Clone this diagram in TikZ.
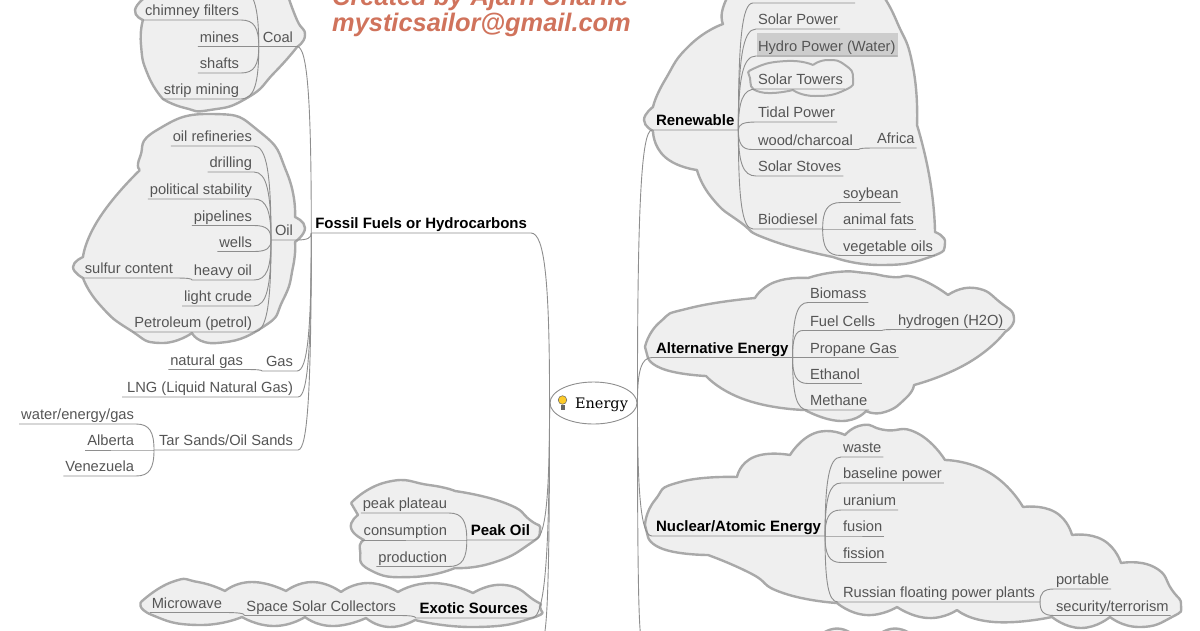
\documentclass[tikz,border=0pt]{standalone}
\usepackage{fontspec}
\setmainfont{Liberation Sans}
\newfontfamily\energyfont{DejaVu Serif}
\usetikzlibrary{calc,shapes.geometric}
\definecolor{Twig}{HTML}{8E8E8E}
\definecolor{LobeEdge}{HTML}{A9A9A9}
\definecolor{LobeFill}{HTML}{EFEFEF}
\definecolor{TopicInk}{HTML}{555555}
\definecolor{HydroGrey}{HTML}{CDCDCD}
\definecolor{Byline}{HTML}{D0735C}
\tikzset{
  every plot/.style={smooth,tension=1},
  lobes/.style={draw=LobeEdge,fill=LobeFill,line width=2.4pt,line join=round},
  twig/.style={draw=Twig,line width=0.9pt},
  topic/.style={font=\fontsize{14.7}{17}\selectfont,text=TopicInk,inner xsep=2pt,inner ysep=0pt,outer sep=0pt,text height=11pt,text depth=4.5pt},
  lefttopic/.style={topic,anchor=south east},
  righttopic/.style={topic,anchor=south west},
  maintopic/.style={font=\fontsize{15}{17}\selectfont\bfseries,text=black,inner xsep=4pt},
  elbow/.style={to path={.. controls ($(\tikztostart)!0.75!(\tikztotarget |- \tikztostart)$) and ($(\tikztotarget)!0.7!(\tikztotarget |- \tikztostart)$) .. (\tikztotarget)}}
}
\begin{document}
\begin{tikzpicture}[x=1pt,y=-1pt]
\useasboundingbox (0,0) rectangle (1200,630);
\clip (0,0) rectangle (1200,630);
\draw[lobes] plot coordinates {(147,-4) (135,10) (143,20)} -- plot coordinates {(143,20) (141,45) (148,75) (163,99)} -- plot coordinates {(163,99) (185,108) (210,110) (247,98) (275,72) (297,47)} -- plot coordinates {(297,47) (305,35) (297,20) (288,-4)};
\draw[lobes] plot coordinates {(140,170) (140,157) (157,130) (213,114) (260,132) (287,173) (295,217)} -- plot coordinates {(295,217) (305,228) (295,242)} -- plot coordinates {(295,242) (293,267) (283,300) (263,327) (217,343) (192,333)} -- plot coordinates {(192,333) (160,343) (130,330) (100,305) (83,278)} -- plot coordinates {(83,278) (73,267) (83,257)} -- plot coordinates {(83,257) (100,217) (140,170)};
\draw[lobes] plot coordinates {(351,503) (387,482) (429,485) (455,491)} -- plot coordinates {(455,491) (505,503) (530,520) (540,530) (528,545) (492,563) (455,568)} -- plot coordinates {(455,568) (412,577) (370,570) (360,550) (364,540)} -- plot coordinates {(364,540) (351,528) (358,515)} -- plot coordinates {(358,515) (351,503)};
\draw[lobes] plot coordinates {(141,602) (172,582) (198,582) (225,591)} -- plot coordinates {(225,591) (252,582) (286,591)} -- plot coordinates {(286,591) (313,582) (341,592)} -- plot coordinates {(341,592) (368,583) (398,592)} -- plot coordinates {(398,592) (433,583) (473,593)} -- plot coordinates {(473,593) (505,585) (534,600) (540,607) (532,618) (476,627) (415,620)} -- plot coordinates {(415,620) (389,627) (366,618)} -- plot coordinates {(366,618) (332,626) (305,617)} -- plot coordinates {(305,617) (274,626) (242,617)} -- plot coordinates {(242,617) (198,625) (152,615) (141,602)};
\draw[lobes] plot coordinates {(728,-4) (722,12) (723,24)} -- plot coordinates {(723,24) (690,45) (665,80) (653,107)} -- plot coordinates {(653,107) (644,120) (653,131)} -- plot coordinates {(653,131) (665,157) (697,170)} -- plot coordinates {(697,170) (712,198) (740,222) (770,240) (833,257)} -- plot coordinates {(833,257) (880,265) (930,257) (945,243) (935,232)} -- plot coordinates {(935,232) (930,180) (917,125)} -- plot coordinates {(917,125) (913,67) (897,22) (883,-4)};
\draw[lobes] plot coordinates {(645,347) (660,322) (690,308) (755,298)} -- plot coordinates {(755,298) (775,282) (808,278)} -- plot coordinates {(808,278) (837,272) (866,273) (892,277) (917,278) (948,295)} -- plot coordinates {(948,295) (975,288) (1001,303) (1014,318) (1005,332)} -- plot coordinates {(1005,332) (968,363) (914,385)} -- plot coordinates {(914,385) (906,398) (885,412) (866,411)} -- plot coordinates {(866,411) (841,421) (805,410)} -- plot coordinates {(805,410) (746,400) (706,376)} -- plot coordinates {(706,376) (666,370) (648,358)} -- plot coordinates {(648,358) (645,347)};
\draw[lobes] plot coordinates {(645,525) (655,500) (680,482) (737,477)} -- plot coordinates {(737,477) (754,457) (790,455)} -- plot coordinates {(790,455) (815,433) (845,435)} -- plot coordinates {(845,435) (863,425) (885,430) (917,433) (945,460)} -- plot coordinates {(945,460) (990,473) (1023,507)} -- plot coordinates {(1023,507) (1055,512) (1072,535)} -- plot coordinates {(1072,535) (1103,540) (1121,563)} -- plot coordinates {(1121,563) (1154,567) (1172,590) (1181,605) (1172,617) (1139,627) (1110,617)} -- plot coordinates {(1110,617) (1081,628) (1052,617)} -- plot coordinates {(1052,617) (994,622) (957,610)} -- plot coordinates {(957,610) (928,618) (897,607)} -- plot coordinates {(897,607) (866,615) (837,603)} -- plot coordinates {(837,603) (783,593) (750,573) (708,555)} -- plot coordinates {(708,555) (666,550) (648,537)} -- plot coordinates {(648,537) (645,525)};
\draw[lobes] plot coordinates {(819,636) (837,628.5) (855,636)};
\draw[lobes] plot coordinates {(877,636) (895,628.5) (914,636)};
\fill[HydroGrey] (757,33) rectangle (898,57);
\draw[lobes,line width=2pt] plot coordinates {(813,65) (787,61) (755,68) (750,78) (760,92) (793,90)} -- plot coordinates {(793,90) (815,96) (845,90) (853,78) (845,65) (828,60) (813,65)};
\node[font=\fontsize{25.4}{27}\selectfont\bfseries\itshape,text=Byline,anchor=base west,inner sep=0pt] (byline) at (332,5) {Created by Ajarn Charlie};
\node[font=\fontsize{25.4}{27}\selectfont\bfseries\itshape,text=Byline,anchor=base west,inner sep=0pt] (mail) at (332,31) {mysticsailor@gmail.com};
\node[ellipse,draw=Twig,line width=0.9pt,fill=white,minimum width=87pt,minimum height=42pt,inner sep=0pt] (energy) at (593.5,403) {};
\node[text height=10pt,text depth=0pt,inner sep=0pt,font=\energyfont\fontsize{14.5}{16}\selectfont,text=black] (energylabel) at (601.5,403) {Energy};
\fill[yellow!55!orange!85,draw=black!60,line width=0.5pt] (562.5,400) circle (4.3);
\fill[black!60] (560.5,404.5) rectangle (564.5,410);
\node[lefttopic,maintopic] (fossil) at (531,233) {Fossil Fuels or Hydrocarbons};
\node[lefttopic,inner xsep=4pt] (coal) at (297,46.5) {Coal};
\node[lefttopic] (chimney) at (241,20) {chimney filters};
\node[lefttopic] (mines) at (241,46.5) {mines};
\node[lefttopic] (shafts) at (241,73) {shafts};
\node[lefttopic] (strip) at (241,99) {strip mining};
\node[lefttopic,inner xsep=4pt] (oil) at (297,240) {Oil};
\node[lefttopic] (refineries) at (254,146) {oil refineries};
\node[lefttopic] (drilling) at (254,172) {drilling};
\node[lefttopic] (stability) at (254,199) {political stability};
\node[lefttopic] (pipelines) at (254,225.5) {pipelines};
\node[lefttopic] (wells) at (254,251.5) {wells};
\node[lefttopic] (heavy) at (254,280) {heavy oil};
\node[lefttopic] (sulfur) at (175,278) {sulfur content};
\node[lefttopic] (crude) at (254,306) {light crude};
\node[lefttopic] (petroleum) at (254,332) {Petroleum (petrol)};
\node[lefttopic,inner xsep=4pt] (gas) at (297,371) {Gas};
\node[lefttopic] (natural) at (245,369.5) {natural gas};
\node[lefttopic,inner xsep=5pt] (lng) at (298,397) {LNG (Liquid Natural Gas)};
\node[lefttopic,inner xsep=5pt] (tar) at (298,450) {Tar Sands/Oil Sands};
\node[lefttopic] (water) at (136,424) {water/energy/gas};
\node[lefttopic] (alberta) at (136,450) {Alberta};
\node[lefttopic] (venezuela) at (136,476) {Venezuela};
\node[lefttopic,maintopic] (peak) at (534,540) {Peak Oil};
\node[lefttopic] (plateau) at (449,513) {peak plateau};
\node[lefttopic] (consumption) at (449,540) {consumption};
\node[lefttopic] (production) at (449,566.5) {production};
\node[lefttopic,maintopic] (exotic) at (532,618) {Exotic Sources};
\node[lefttopic] (collectors) at (398,615.5) {Space Solar Collectors};
\node[lefttopic] (microwave) at (224,612.5) {Microwave};
\coordinate (windleft) at (753,3);
\coordinate (windright) at (855,3);
\coordinate (coaltop) at (238,-12);
\coordinate (offleft) at (542,640);
\coordinate (offright) at (642,640);
\node[righttopic,maintopic] (renewable) at (652,130) {Renewable};
\node[righttopic] (solarpower) at (756,29) {Solar Power};
\node[righttopic] (hydro) at (756,56) {Hydro Power (Water)};
\node[righttopic] (towers) at (756,89) {Solar Towers};
\node[righttopic] (tidal) at (756,122) {Tidal Power};
\node[righttopic,inner xsep=6pt] (wood) at (752,149.5) {wood/charcoal};
\node[righttopic] (africa) at (875,148) {Africa};
\node[righttopic] (stoves) at (756,176) {Solar Stoves};
\node[righttopic,inner xsep=5pt] (biodiesel) at (753,229) {Biodiesel};
\node[righttopic] (soybean) at (841,202.5) {soybean};
\node[righttopic] (fats) at (841,229) {animal fats};
\node[righttopic] (vegetable) at (841,255.5) {vegetable oils};
\node[righttopic,maintopic] (alternative) at (652,357.5) {Alternative Energy};
\node[righttopic] (biomass) at (808,302.5) {Biomass};
\node[righttopic,inner xsep=7pt] (fuel) at (803,330.5) {Fuel Cells};
\node[righttopic] (hydrogen) at (896,329.5) {hydrogen (H2O)};
\node[righttopic] (propane) at (808,357.5) {Propane Gas};
\node[righttopic] (ethanol) at (808,383.5) {Ethanol};
\node[righttopic] (methane) at (808,410) {Methane};
\node[righttopic,maintopic] (nuclear) at (652,536) {Nuclear/Atomic Energy};
\node[righttopic] (waste) at (841,457) {waste};
\node[righttopic] (baseline) at (841,483) {baseline power};
\node[righttopic] (uranium) at (841,510) {uranium};
\node[righttopic] (fusion) at (841,536) {fusion};
\node[righttopic] (fission) at (841,562.5) {fission};
\node[righttopic,inner xsep=5pt] (russian) at (838,602) {Russian floating power plants};
\node[righttopic] (portable) at (1054,589) {portable};
\node[righttopic] (security) at (1054,615.5) {security/terrorism};
\draw[twig] (fossil.south west) -- (fossil.south east) to[elbow] (energy.west);
\draw[twig] (coal.south west) -- (coal.south east) to[elbow] (fossil.south west);
\draw[twig] (chimney.south west) -- (chimney.south east) to[elbow] (coal.south west);
\draw[twig] (mines.south west) -- (mines.south east) to[elbow] (coal.south west);
\draw[twig] (shafts.south west) -- (shafts.south east) to[elbow] (coal.south west);
\draw[twig] (strip.south west) -- (strip.south east) to[elbow] (coal.south west);
\draw[twig] (coaltop) to[elbow] (coal.south west);
\draw[twig] (oil.south west) -- (oil.south east) to[elbow] (fossil.south west);
\draw[twig] (refineries.south west) -- (refineries.south east) to[elbow] (oil.south west);
\draw[twig] (drilling.south west) -- (drilling.south east) to[elbow] (oil.south west);
\draw[twig] (stability.south west) -- (stability.south east) to[elbow] (oil.south west);
\draw[twig] (pipelines.south west) -- (pipelines.south east) to[elbow] (oil.south west);
\draw[twig] (wells.south west) -- (wells.south east) to[elbow] (oil.south west);
\draw[twig] (heavy.south west) -- (heavy.south east) to[elbow] (oil.south west);
\draw[twig] (sulfur.south west) -- (sulfur.south east) to[elbow] (heavy.south west);
\draw[twig] (crude.south west) -- (crude.south east) to[elbow] (oil.south west);
\draw[twig] (petroleum.south west) -- (petroleum.south east) to[elbow] (oil.south west);
\draw[twig] (gas.south west) -- (gas.south east) to[elbow] (fossil.south west);
\draw[twig] (natural.south west) -- (natural.south east) to[elbow] (gas.south west);
\draw[twig] (lng.south west) -- (lng.south east) to[elbow] (fossil.south west);
\draw[twig] (tar.south west) -- (tar.south east) to[elbow] (fossil.south west);
\draw[twig] (water.south west) -- (water.south east) to[elbow] (tar.south west);
\draw[twig] (alberta.south west) -- (alberta.south east) to[elbow] (tar.south west);
\draw[twig] (venezuela.south west) -- (venezuela.south east) to[elbow] (tar.south west);
\draw[twig] (peak.south west) -- (peak.south east) to[elbow] (energy.west);
\draw[twig] (plateau.south west) -- (plateau.south east) to[elbow] (peak.south west);
\draw[twig] (consumption.south west) -- (consumption.south east) to[elbow] (peak.south west);
\draw[twig] (production.south west) -- (production.south east) to[elbow] (peak.south west);
\draw[twig] (exotic.south west) -- (exotic.south east) to[elbow] (energy.west);
\draw[twig] (collectors.south west) -- (collectors.south east) to[elbow] (exotic.south west);
\draw[twig] (microwave.south west) -- (microwave.south east) to[elbow] (collectors.south west);
\draw[twig] (offleft) to[elbow] (energy.west);
\draw[twig] (renewable.south east) -- (renewable.south west) to[elbow] (energy.east);
\draw[twig] (windright) -- (windleft) to[elbow] (renewable.south east);
\draw[twig] (solarpower.south east) -- (solarpower.south west) to[elbow] (renewable.south east);
\draw[twig] (hydro.south east) -- (hydro.south west) to[elbow] (renewable.south east);
\draw[twig] (towers.south east) -- (towers.south west) to[elbow] (renewable.south east);
\draw[twig] (tidal.south east) -- (tidal.south west) to[elbow] (renewable.south east);
\draw[twig] (wood.south east) -- (wood.south west) to[elbow] (renewable.south east);
\draw[twig] (africa.south east) -- (africa.south west) to[elbow] (wood.south east);
\draw[twig] (stoves.south east) -- (stoves.south west) to[elbow] (renewable.south east);
\draw[twig] (biodiesel.south east) -- (biodiesel.south west) to[elbow] (renewable.south east);
\draw[twig] (soybean.south east) -- (soybean.south west) to[elbow] (biodiesel.south east);
\draw[twig] (fats.south east) -- (fats.south west) to[elbow] (biodiesel.south east);
\draw[twig] (vegetable.south east) -- (vegetable.south west) to[elbow] (biodiesel.south east);
\draw[twig] (alternative.south east) -- (alternative.south west) to[elbow] (energy.east);
\draw[twig] (biomass.south east) -- (biomass.south west) to[elbow] (alternative.south east);
\draw[twig] (fuel.south east) -- (fuel.south west) to[elbow] (alternative.south east);
\draw[twig] (hydrogen.south east) -- (hydrogen.south west) to[elbow] (fuel.south east);
\draw[twig] (propane.south east) -- (propane.south west) to[elbow] (alternative.south east);
\draw[twig] (ethanol.south east) -- (ethanol.south west) to[elbow] (alternative.south east);
\draw[twig] (methane.south east) -- (methane.south west) to[elbow] (alternative.south east);
\draw[twig] (nuclear.south east) -- (nuclear.south west) to[elbow] (energy.east);
\draw[twig] (waste.south east) -- (waste.south west) to[elbow] (nuclear.south east);
\draw[twig] (baseline.south east) -- (baseline.south west) to[elbow] (nuclear.south east);
\draw[twig] (uranium.south east) -- (uranium.south west) to[elbow] (nuclear.south east);
\draw[twig] (fusion.south east) -- (fusion.south west) to[elbow] (nuclear.south east);
\draw[twig] (fission.south east) -- (fission.south west) to[elbow] (nuclear.south east);
\draw[twig] (russian.south east) -- (russian.south west) to[elbow] (nuclear.south east);
\draw[twig] (portable.south east) -- (portable.south west) to[elbow] (russian.south east);
\draw[twig] (security.south east) -- (security.south west) to[elbow] (russian.south east);
\draw[twig] (offright) to[elbow] (energy.east);
\end{tikzpicture}
\end{document}
